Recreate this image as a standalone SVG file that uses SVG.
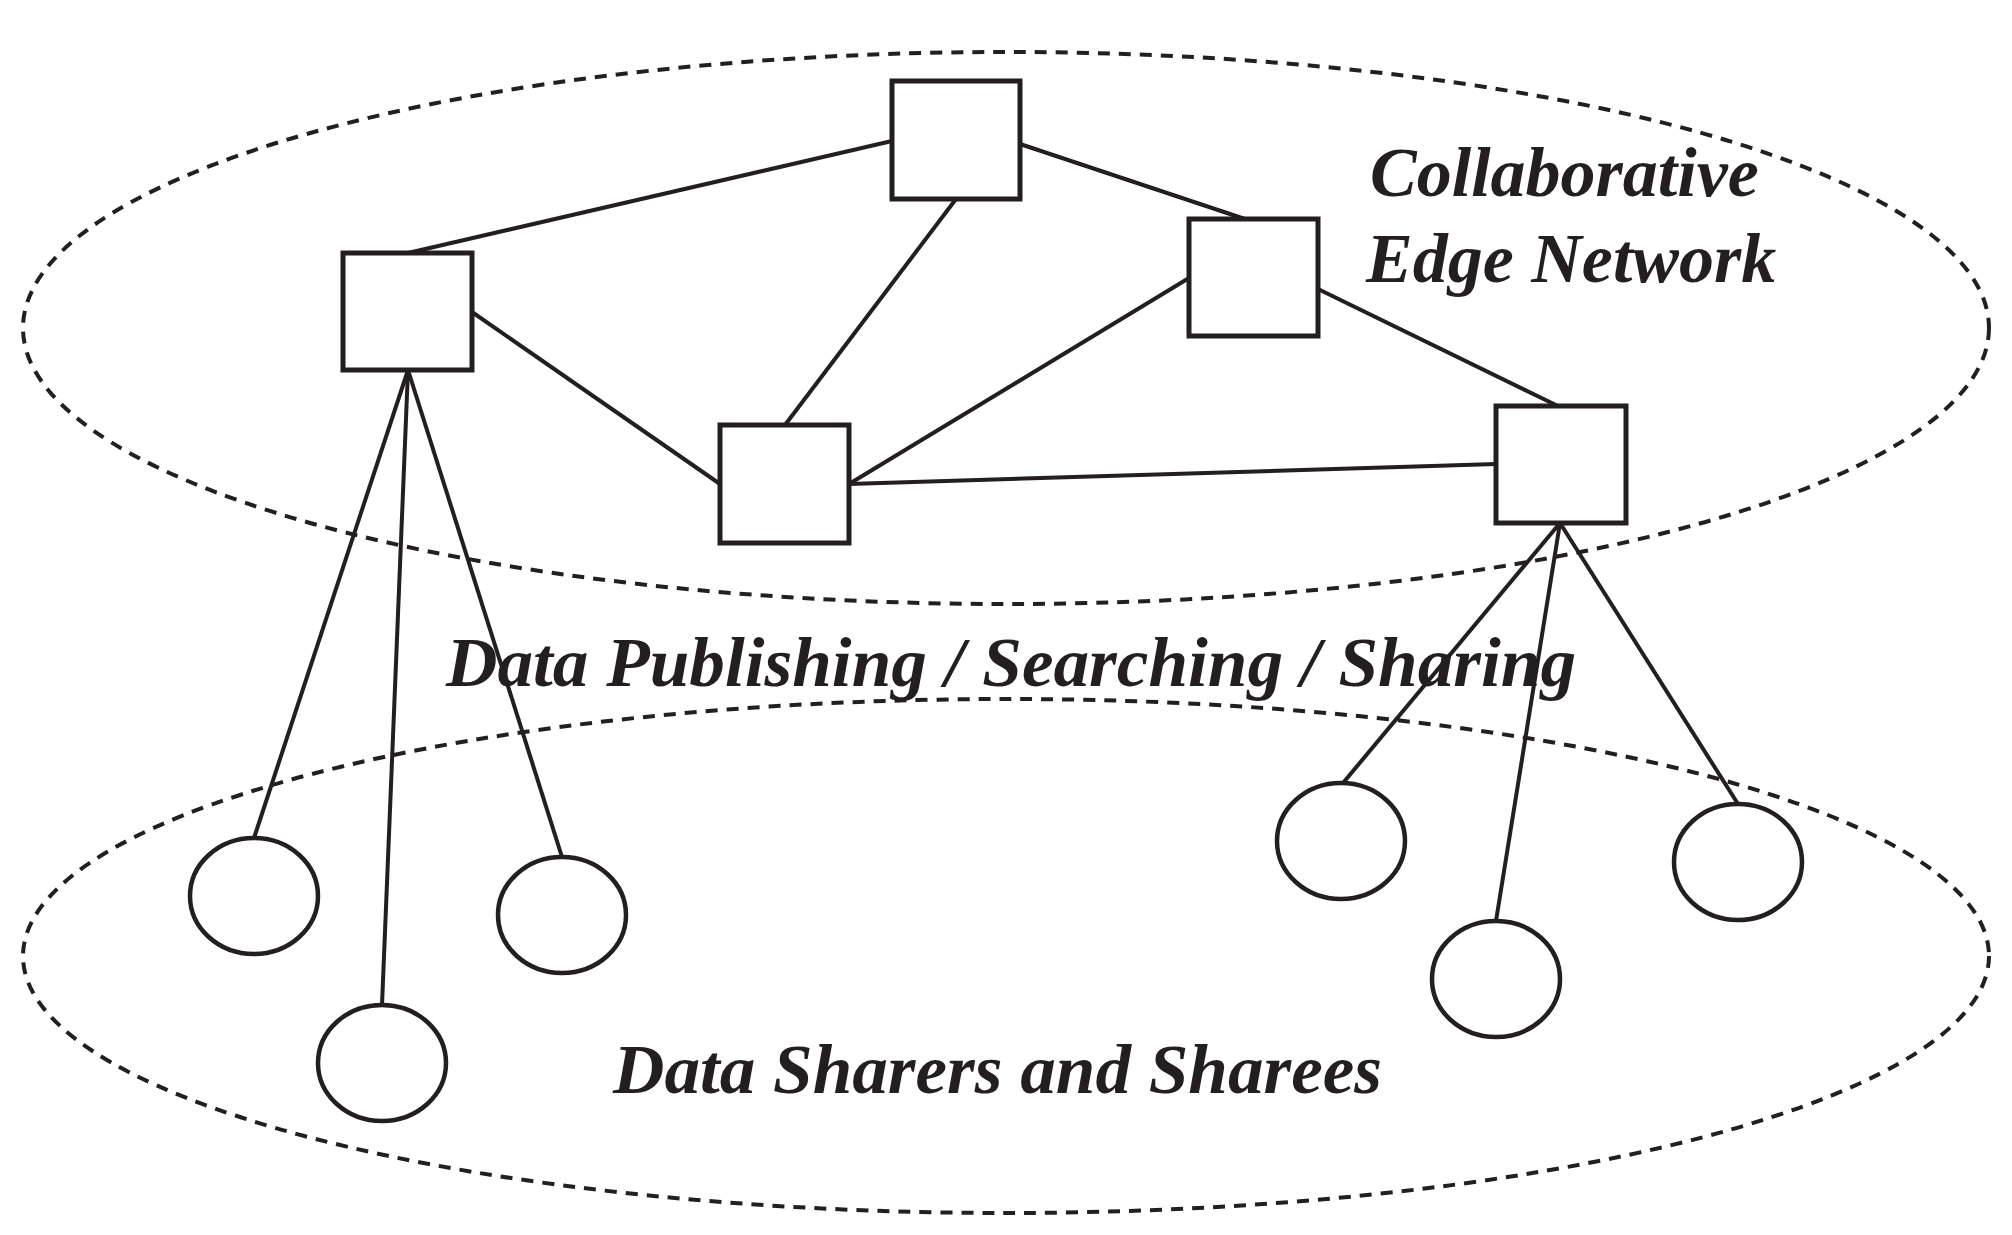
<svg xmlns="http://www.w3.org/2000/svg" width="2012" height="1235" viewBox="0 0 2012 1235">
<style>
.region{fill:none;stroke:#231f20;stroke-width:4;stroke-dasharray:12 9}
.box{fill:#fff;stroke:#231f20;stroke-width:5}
.node{fill:#fff;stroke:#231f20;stroke-width:4.5}
.edge{stroke:#231f20;stroke-width:4;fill:none}
.lbl{font-family:"Liberation Serif","Times New Roman",serif;font-weight:bold;font-style:italic;font-size:70px;fill:#231f20}
</style>
<rect width="2012" height="1235" fill="#fff"/>
<g id="regions">
<ellipse class="region" cx="1006" cy="328" rx="983" ry="276"/>
<ellipse class="region" cx="1006" cy="956" rx="983" ry="257"/>
</g>
<g id="connectors">
<line class="edge" x1="892" y1="141" x2="408" y2="253"/>
<line class="edge" x1="956" y1="199" x2="785" y2="425"/>
<line class="edge" x1="1020" y1="144" x2="1245" y2="219"/>
<line class="edge" x1="472" y1="312" x2="720" y2="484"/>
<line class="edge" x1="1189" y1="278" x2="849" y2="484"/>
<line class="edge" x1="849" y1="484" x2="1496" y2="464"/>
<line class="edge" x1="1318" y1="289" x2="1560" y2="407"/>
<line class="edge" x1="408" y1="370" x2="254" y2="838"/>
<line class="edge" x1="408" y1="370" x2="382" y2="1005"/>
<line class="edge" x1="408" y1="370" x2="562" y2="857"/>
<line class="edge" x1="1560" y1="523" x2="1343" y2="783"/>
<line class="edge" x1="1560" y1="523" x2="1496" y2="921"/>
<line class="edge" x1="1560" y1="523" x2="1738" y2="804"/>
</g>
<g id="box-top"><rect class="box" x="892" y="81" width="128" height="118"/></g>
<g id="box-left"><rect class="box" x="343" y="253" width="129" height="117"/></g>
<g id="box-right-top"><rect class="box" x="1189" y="219" width="129" height="117"/></g>
<g id="box-middle"><rect class="box" x="720" y="425" width="129" height="118"/></g>
<g id="box-right"><rect class="box" x="1496" y="406" width="130" height="117"/></g>
<g id="c1"><ellipse class="node" cx="254" cy="896" rx="64" ry="58"/></g>
<g id="c2"><ellipse class="node" cx="382" cy="1063" rx="64" ry="58"/></g>
<g id="c3"><ellipse class="node" cx="562" cy="915" rx="64" ry="58"/></g>
<g id="c4"><ellipse class="node" cx="1341" cy="841" rx="64" ry="58"/></g>
<g id="c5"><ellipse class="node" cx="1496" cy="979" rx="64" ry="58"/></g>
<g id="c6"><ellipse class="node" cx="1738" cy="862" rx="64" ry="58"/></g>
<g id="labels">
<text class="lbl" x="1370" y="196">Collaborative</text>
<text class="lbl" x="1366" y="282">Edge Network</text>
<text class="lbl" x="446" y="686" textLength="1130" lengthAdjust="spacingAndGlyphs">Data Publishing / Searching / Sharing</text>
<text class="lbl" x="613" y="1093" textLength="769" lengthAdjust="spacingAndGlyphs">Data Sharers and Sharees</text>
</g>
</svg>
